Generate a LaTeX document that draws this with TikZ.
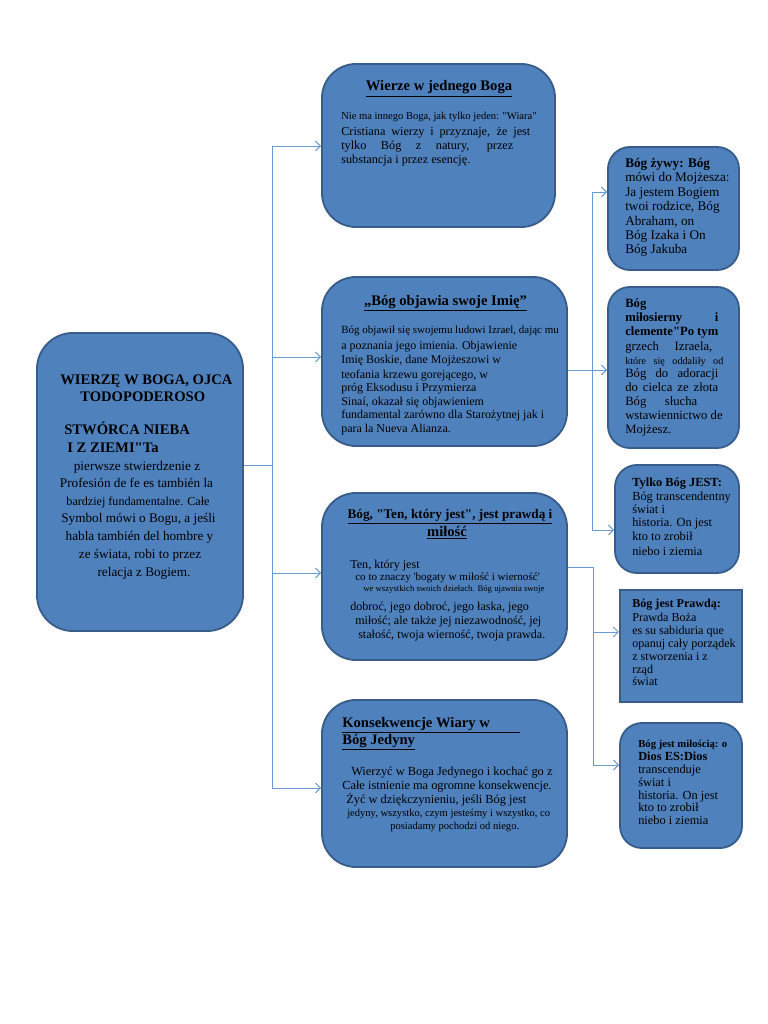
\documentclass[tikz,border=0pt]{standalone}
\usepackage{fontspec}
\setmainfont{Liberation Serif}[Ligatures=TeXOff]
\usetikzlibrary{arrows.meta}
\definecolor{cardB}{HTML}{4F81BD}
\definecolor{cardE}{HTML}{385D8A}
\definecolor{linkB}{HTML}{6A9AD4}
\newcommand{\fsz}[2]{\fontsize{#1}{#2}\selectfont}
\newcommand{\jline}[2]{\makebox[#1][s]{#2}}

\begin{document}
\begin{tikzpicture}[x=0.025cm, y=-0.025cm,
  card/.style={draw=cardE, fill=cardB, line width=1.3pt, rounded corners=#1, inner sep=0pt},
  card/.default=0.85cm,
  sqcard/.style={draw=cardE, fill=cardB, line width=1.5pt, sharp corners, inner sep=0pt},
  txt/.style={anchor=base west, inner sep=0pt, text=black},
  ctxt/.style={anchor=base, inner sep=0pt, text=black},
  ttl/.style={font=\fsz{10.4}{12}\bfseries},
  link/.style={draw=linkB, line width=0.7pt},
  arr/.style={link, -{Straight Barb[length=3.5pt, width=7pt]}}]
  \path[use as bounding box] (0,0) rectangle (768,1024);

  % cards
  \node[card=0.9cm, minimum width=5.15cm, minimum height=7.45cm] (main) at (140,482) {};
  \node[card, minimum width=5.825cm, minimum height=4.075cm] (box1) at (438.5,145.5) {};
  \node[card, minimum width=6.125cm, minimum height=4.225cm] (box2) at (444.5,361.5) {};
  \node[card, minimum width=6.125cm, minimum height=4.175cm] (box3) at (444.5,576.5) {};
  \node[card, minimum width=6.125cm, minimum height=4.175cm] (box4) at (444.5,783.5) {};
  \node[card=0.55cm, minimum width=3.275cm, minimum height=3.075cm] (r1) at (673.5,208.5) {};
  \node[card=0.55cm, minimum width=3.275cm, minimum height=4.025cm] (r2) at (673.5,367.5) {};
  \node[card=0.55cm, minimum width=3.1cm, minimum height=2.7cm] (r3) at (677,519) {};
  \node[sqcard, minimum width=3.05cm, minimum height=2.8cm] (r4) at (681,646) {};
  \node[card=0.55cm, minimum width=3.05cm, minimum height=3.125cm] (r5) at (681,785.5) {};

  % left trunk
  \coordinate (jL) at (272,465);
  \coordinate (t1) at (272,146);
  \coordinate (t2) at (272,357);
  \coordinate (t3) at (272,573);
  \coordinate (t4) at (272,788);
  \draw[link] (main.east |- jL) -- (jL);
  \draw[link] (t1) -- (t4);
  \foreach \c/\b in {t1/box1, t2/box2, t3/box3, t4/box4}
    \draw[arr] (\c) -- (\c -| \b.west);

  % right branches
  \coordinate (jR) at (592,370);
  \coordinate (u1) at (592,192);
  \coordinate (u3) at (592,530);
  \draw[link] (u1) -- (u3);
  \draw[arr] (box2.east |- jR) -- (jR -| r2.west);
  \draw[arr] (u1) -- (u1 -| r1.west);
  \draw[arr] (u3) -- (u3 -| r3.west);
  \coordinate (jR2) at (593,567);
  \coordinate (l4) at (593,632);
  \coordinate (l5) at (593,765);
  \draw[link] (box3.east |- jR2) -- (jR2) -- (l5);
  \draw[arr] (l4) -- (l4 -| r4.west);
  \draw[arr] (l5) -- (l5 -| r5.west);

  % main card
  \node[txt, ttl] (mT1) at (60,384) {WIERZĘ W BOGA, OJCA};
  \node[txt, ttl] (mT2) at (80,401) {TODOPODEROSO};
  \node[txt, ttl] (mT3) at (64,434) {STWÓRCA NIEBA};
  \node[txt, ttl] (mT4) at (67,452) {I Z ZIEMI"Ta};
  \foreach \n/\x/\y/\t in {1/137/470/{pierwsze stwierdzenie z},
    2/136.5/487/{Profesión de fe es también la},
    3/138/505/{\fsz{8.6}{10}bardziej fundamentalne. Całe},
    4/138.5/522/{Symbol mówi o Bogu, a jeśli},
    5/139.5/540/{habla también del hombre y},
    6/140/558/{ze świata, robi to przez},
    7/144/576/{relacja z Bogiem.}}
    \node[ctxt, font=\fsz{9.4}{11}] (mL\n) at (\x,\y) {\t};

  % box 1
  \node[ctxt, ttl] (b1T) at (439,91) {\underline{Wierze w jednego Boga}};
  \node[txt, font=\fsz{7.5}{9}] (b1L1) at (341,120) {Nie ma innego Boga, jak tylko jeden: "Wiara"};
  \foreach \n/\y/\t in {2/136/{\jline{4.725cm}{Cristiana wierzy i przyznaje, że jest}},
    3/150/{\jline{4.3cm}{tylko Bóg z natury, przez}},
    4/164/{substancja i przez esencję.}}
    \node[txt, font=\fsz{8.7}{10}] (b1L\n) at (341,\y) {\t};

  % box 2
  \node[ctxt, ttl] (b2T) at (445.5,305) {\underline{„Bóg objawia swoje Imię”}};
  \foreach \n/\y/\t in {1/333/{\fsz{7.8}{9}Bóg objawił się swojemu ludowi Izrael, dając mu},
    2/349/{a poznania jego imienia. Objawienie},
    3/363/{Imię Boskie, dane Mojżeszowi w},
    4/378/{teofania krzewu gorejącego, w},
    5/391/{próg Eksodusu i Przymierza},
    6/405/{Sinaí, okazał się objawieniem},
    7/418/{fundamental zarówno dla Starożytnej jak i},
    8/432/{para la Nueva Alianza.}}
    \node[txt, font=\fsz{8.5}{10}] (b2L\n) at (341,\y) {\t};

  % box 3
  \node[ctxt, font=\fsz{9.4}{11}\bfseries] (b3T1) at (450,518) {\underline{Bóg, "Ten, który jest", jest prawdą i}};
  \node[ctxt, ttl] (b3T2) at (447,536) {\underline{miłość}};
  \foreach \n/\x/\y/\t in {1/350/568/{Ten, który jest},
    2/355/580/{\fsz{7.9}{9}co to znaczy 'bogaty w miłość i wierność'},
    3/363/591/{\fsz{6.2}{7}we wszystkich swoich dziełach. Bóg ujawnia swoje},
    4/350/610/{dobroć, jego dobroć, jego łaska, jego},
    5/355/624/{miłość; ale także jej niezawodność, jej},
    6/358/638/{stałość, twoja wierność, twoja prawda.}}
    \node[txt, font=\fsz{8.6}{10}] (b3L\n) at (\x,\y) {\t};

  % box 4
  \node[txt, ttl] (b4T1) at (342,727) {\underline{Konsekwencje Wiary w\hspace{0.75cm}}};
  \node[txt, ttl] (b4T2) at (342,744) {\underline{Bóg Jedyny}};
  \foreach \n/\x/\y/\t in {1/351/775/{Wierzyć w Boga Jedynego i kochać go z},
    2/342/789/{Całe istnienie ma ogromne konsekwencje.},
    3/346/803/{Żyć w dziękczynieniu, jeśli Bóg jest},
    4/347/816/{\fsz{7.5}{9}jedyny, wszystko, czym jesteśmy i wszystko, co},
    5/390/829/{\fsz{7.5}{9}posiadamy pochodzi od niego.}}
    \node[txt, font=\fsz{8.8}{10}] (b4L\n) at (\x,\y) {\t};

  % right cards
  \foreach \n/\y/\t in {1/168/{\bfseries Bóg żywy: Bóg}, 2/182/{mówi do Mojżesza:},
    3/197/{Ja jestem Bogiem}, 4/211/{twoi rodzice, Bóg}, 5/226/{Abraham, on},
    6/240/{Bóg Izaka i On}, 7/253/{Bóg Jakuba}}
    \node[txt, font=\fsz{9.4}{10}] (r1L\n) at (625,\y) {\t};
  \foreach \n/\y/\t in {1/307/{\bfseries Bóg},
    2/321/{\bfseries\jline{2.325cm}{miłosierny i}},
    3/335/{\bfseries\jline{2.325cm}{clemente"Po tym}},
    4/350/{\jline{2.175cm}{grzech Izraela,}},
    5/364/{\fsz{7.2}{8}\jline{2.45cm}{które się oddaliły od}},
    6/377/{\jline{2.325cm}{Bóg do adoracji}},
    7/391/{\jline{2.325cm}{do cielca ze złota}},
    8/405/{\jline{1.8cm}{Bóg słucha}},
    9/419/{wstawiennictwo de}, 10/433/{Mojżesz.}}
    \node[txt, font=\fsz{9}{10}] (r2L\n) at (625,\y) {\t};
  \foreach \n/\y/\t in {1/486/{\bfseries Tylko Bóg JEST:}, 2/500/{Bóg transcendentny},
    3/513/{świat i}, 4/526/{historia. On jest}, 5/540/{kto to zrobił}, 6/555/{niebo i ziemia}}
    \node[txt, font=\fsz{8.8}{10}] (r3L\n) at (632,\y) {\t};
  \foreach \n/\y/\t in {1/607/{\bfseries Bóg jest Prawdą:}, 2/621/{Prawda Boża},
    3/634/{es su sabiduria que}, 4/647/{opanuj cały porządek}, 5/660/{z stworzenia i z},
    6/673/{rząd}, 7/685/{świat}}
    \node[txt, font=\fsz{8.6}{10}] (r4L\n) at (632,\y) {\t};
  \foreach \n/\y/\t in {1/747/{\fsz{7.6}{9}\bfseries Bóg jest miłością: o},
    2/760/{\bfseries Dios ES:Dios}, 3/773/{transcenduje}, 4/786/{świat i},
    5/799/{historia. On jest}, 6/811/{kto to zrobił}, 7/824/{niebo i ziemia}}
    \node[txt, font=\fsz{8.8}{10}] (r5L\n) at (638,\y) {\t};
\end{tikzpicture}
\end{document}
